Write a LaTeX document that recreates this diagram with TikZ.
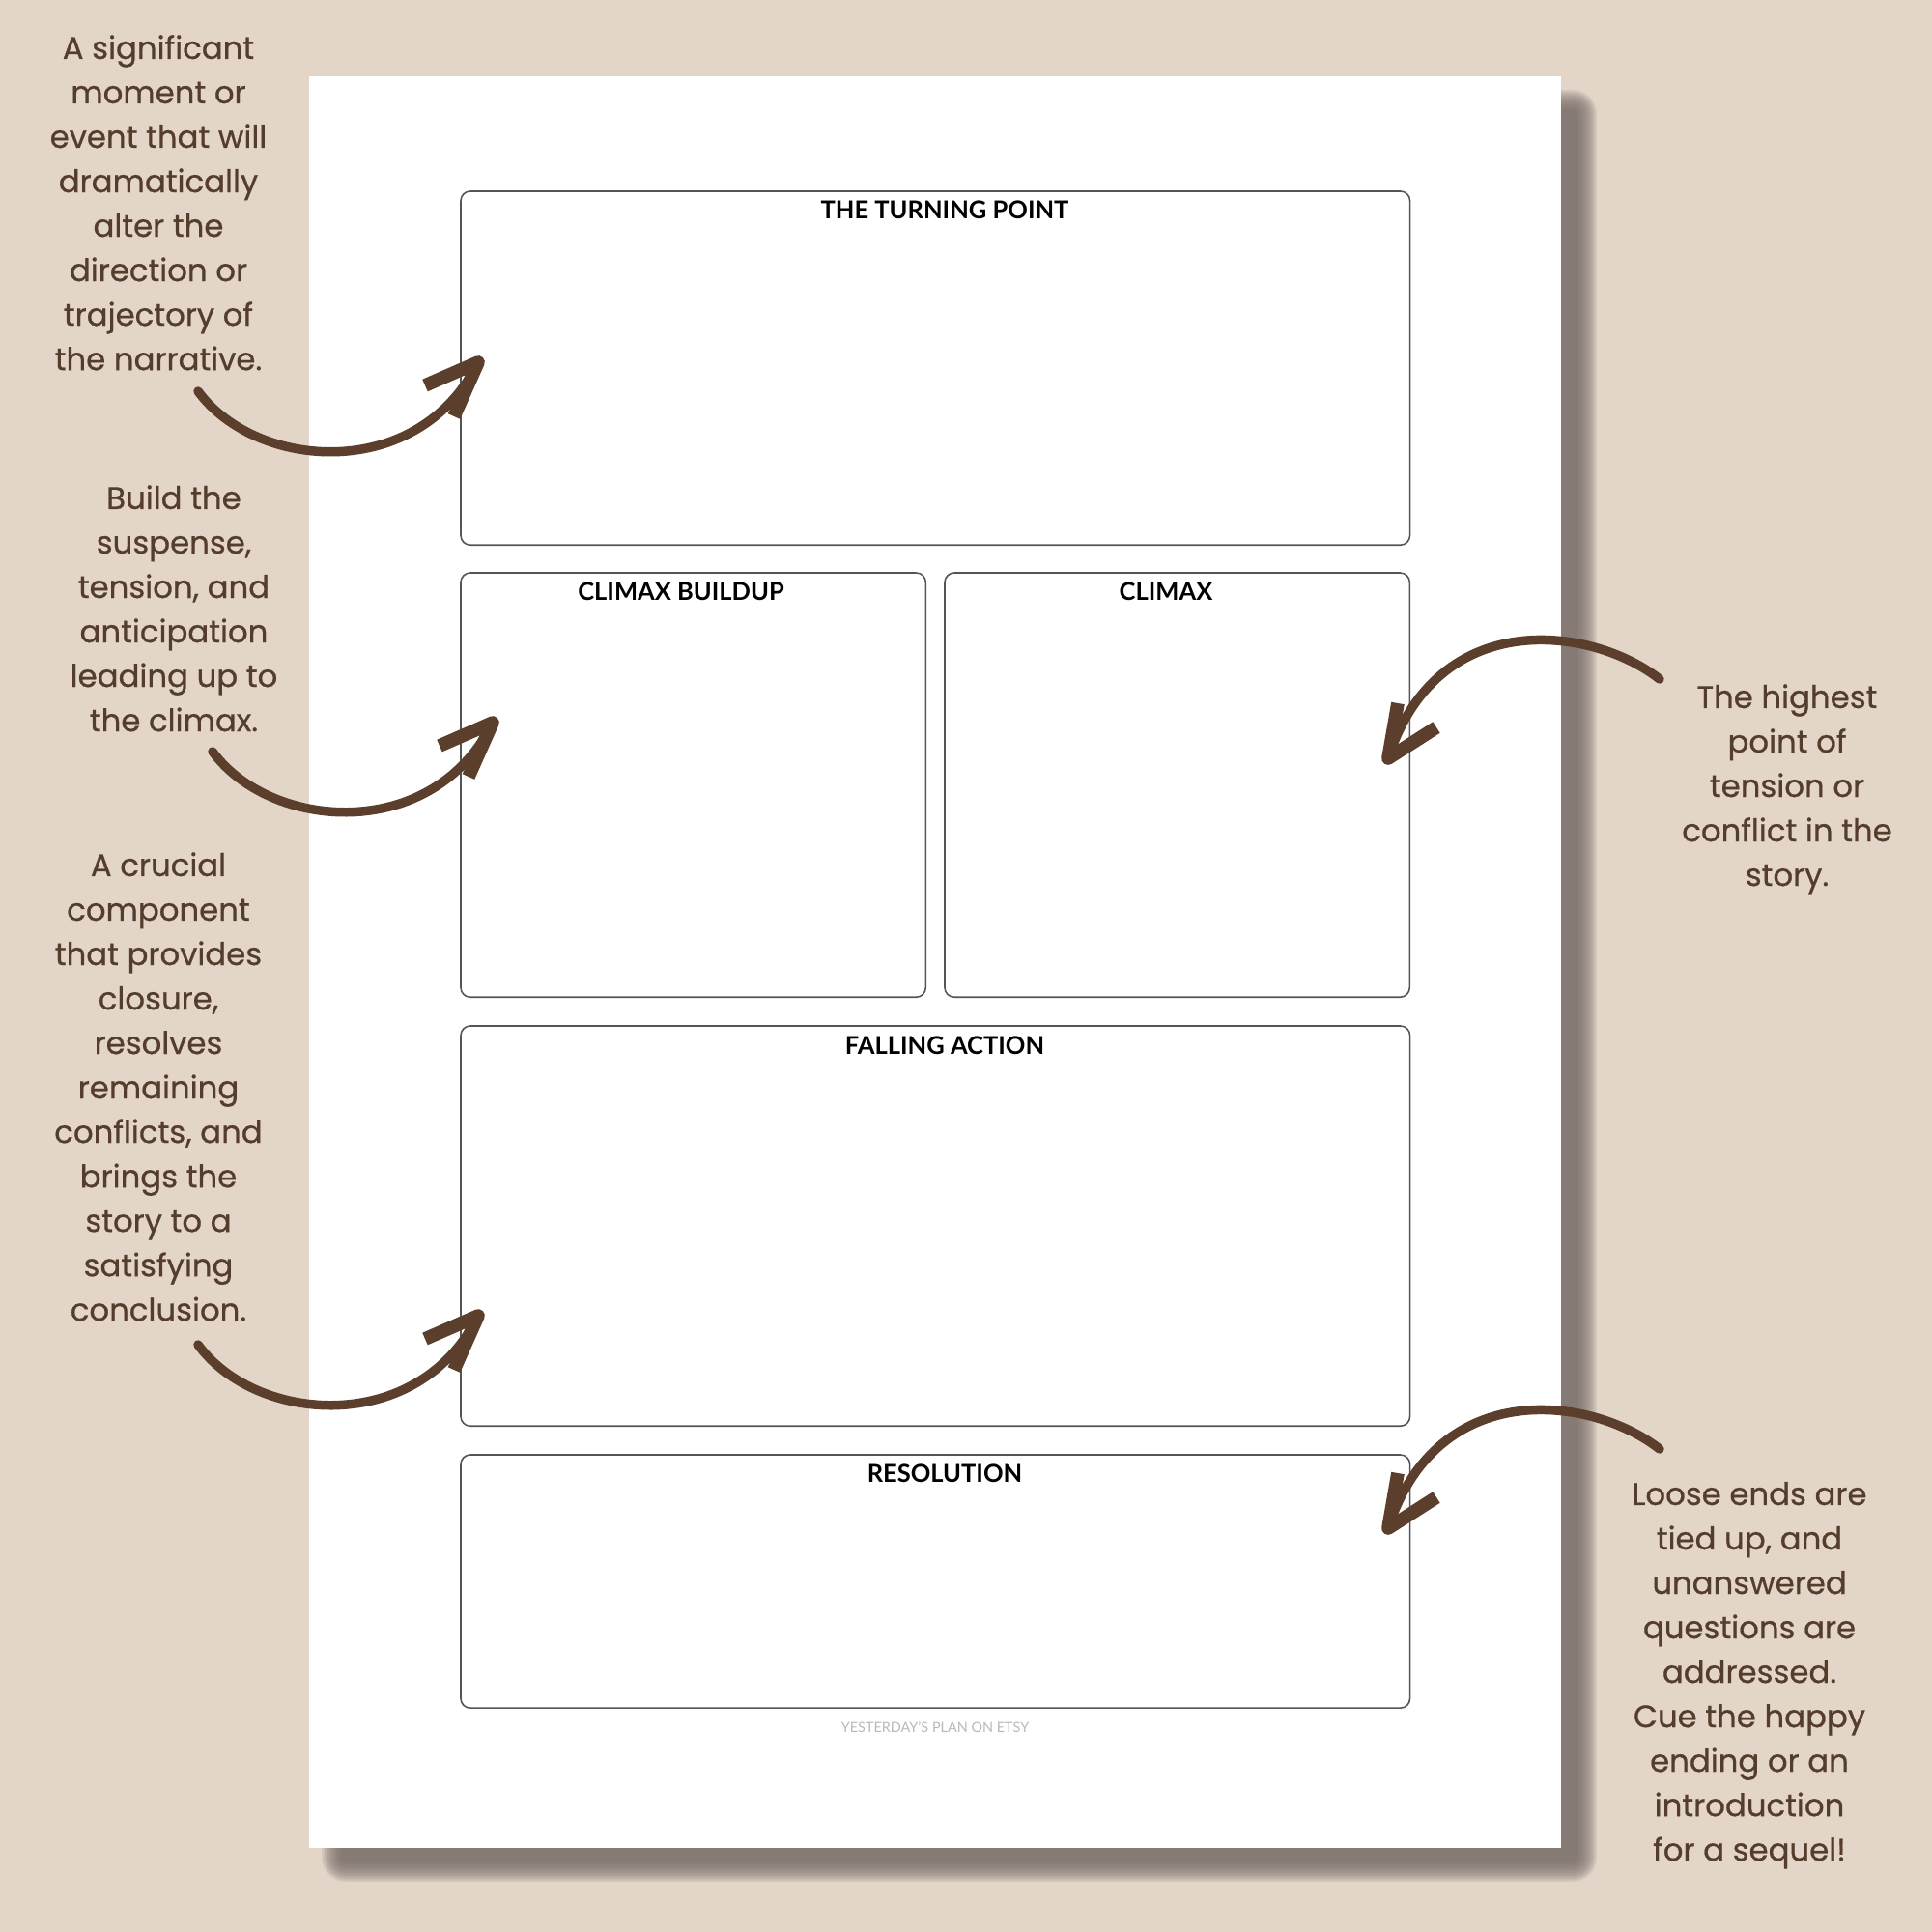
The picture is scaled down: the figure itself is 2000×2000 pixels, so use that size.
\documentclass[tikz,border=0pt]{standalone}
\usepackage{fontspec}
\newfontfamily\annfont{Poppins}[FakeBold=0.6]
\newfontfamily\headfont{Lato}
\definecolor{bgc}{RGB}{227,213,200}
\definecolor{txtc}{RGB}{85,61,45}
\definecolor{arrc}{RGB}{91,63,44}
\definecolor{shadc}{RGB}{122,112,106}
\definecolor{linec}{RGB}{85,85,85}
\definecolor{footc}{RGB}{185,185,185}
\tikzset{
  panel/.style={draw=linec, line width=0.45pt, rounded corners=2.8pt, fill=white, inner sep=0pt, outer sep=0pt, anchor=north west},
  head/.style={font=\headfont\bfseries\fontsize{7.25}{8}\selectfont, text=black, inner sep=0pt, anchor=base},
  ann/.style={font=\annfont\fontsize{9.2}{13.09}\selectfont, text=txtc, align=center, inner sep=0pt, anchor=north},
  foot/.style={font=\headfont\fontsize{4.1}{5}\selectfont, text=footc, inner sep=0pt, anchor=base},
  shaft/.style={draw=arrc, line width=2.7pt, line cap=round},
  barb/.style={draw=arrc, line width=3.9pt, line cap=butt, line join=round},
  curlyR/.pic={
    \coordinate (-s) at (0,0);
    \coordinate (-t) at (290,-30);
    \draw[shaft] (-s) .. controls (60,82) and (228,95) .. (-t);
    \draw[barb] (235,-6) -- (-t) -- (265,26);
  },
  curlyL/.pic={
    \coordinate (-s) at (0,0);
    \coordinate (-t) at (-281,82);
    \draw[shaft] (-s) .. controls (-70,-55) and (-230,-76) .. (-t);
    \draw[barb] (-271,25) -- (-t) -- (-231,50);
  }
}
\begin{document}
\begin{tikzpicture}[x=0.01cm,y=-0.01cm]
\useasboundingbox (0,0) rectangle (2000,2000);
\fill[bgc] (0,0) rectangle (2000,2000);
% shadow of the page
\foreach \i in {0,...,14}{
  \pgfmathsetmacro\e{1.5*\i}
  \pgfmathsetmacro\r{(\e+4)*0.2845}
  \fill[shadc, opacity=0.12, rounded corners=\r pt] (354-\e,114-\e) rectangle (1632+\e,1927+\e);
}
% page
\fill[white] (320,79) rectangle (1616,1913);
% panels
\node[panel, minimum width=9.82cm, minimum height=3.66cm] (tp) at (477,198) {};
\node[panel, minimum width=4.81cm, minimum height=4.39cm] (cb) at (477,593) {};
\node[panel, minimum width=4.81cm, minimum height=4.39cm] (cl) at (978,593) {};
\node[panel, minimum width=9.82cm, minimum height=4.14cm] (fa) at (477,1062) {};
\node[panel, minimum width=9.82cm, minimum height=2.62cm] (re) at (477,1506) {};
% headings
\node[head] (tpt) at (978,226) {THE TURNING POINT};
\node[head] (cbt) at (705,621) {CLIMAX BUILDUP};
\node[head] (clt) at (1207,621) {CLIMAX};
\node[head] (fat) at (978,1091) {FALLING ACTION};
\node[head] (ret) at (978,1534) {RESOLUTION};
\node[foot] (ft) at (968,1793) {YESTERDAY’S PLAN ON ETSY};
% annotations
\node[ann] (n1) at (164,28) {\strut A significant\\moment or\\event that will\\dramatically\\alter the\\direction or\\trajectory of\\the narrative.};
\node[ann] (n2) at (180,494) {\strut Build the\\suspense,\\tension, and\\anticipation\\leading up to\\the climax.};
\node[ann] (n3) at (164,874) {\strut A crucial\\component\\that provides\\closure,\\resolves\\remaining\\conflicts, and\\brings the\\story to a\\satisfying\\conclusion.};
\node[ann] (n4) at (1850,700) {\strut The highest\\point of\\tension or\\conflict in the\\story.};
\node[ann] (n5) at (1811,1525) {\strut Loose ends are\\tied up, and\\unanswered\\questions are\\addressed.\\Cue the happy\\ending or an\\introduction\\for a sequel!};
% arrows
\pic (a1) at (205,405) {curlyR};
\pic (a2) at (220,778) {curlyR};
\pic (a3) at (205,1392) {curlyR};
\pic (a4) at (1718,703) {curlyL};
\pic (a5) at (1718,1500) {curlyL};
\end{tikzpicture}
\end{document}
